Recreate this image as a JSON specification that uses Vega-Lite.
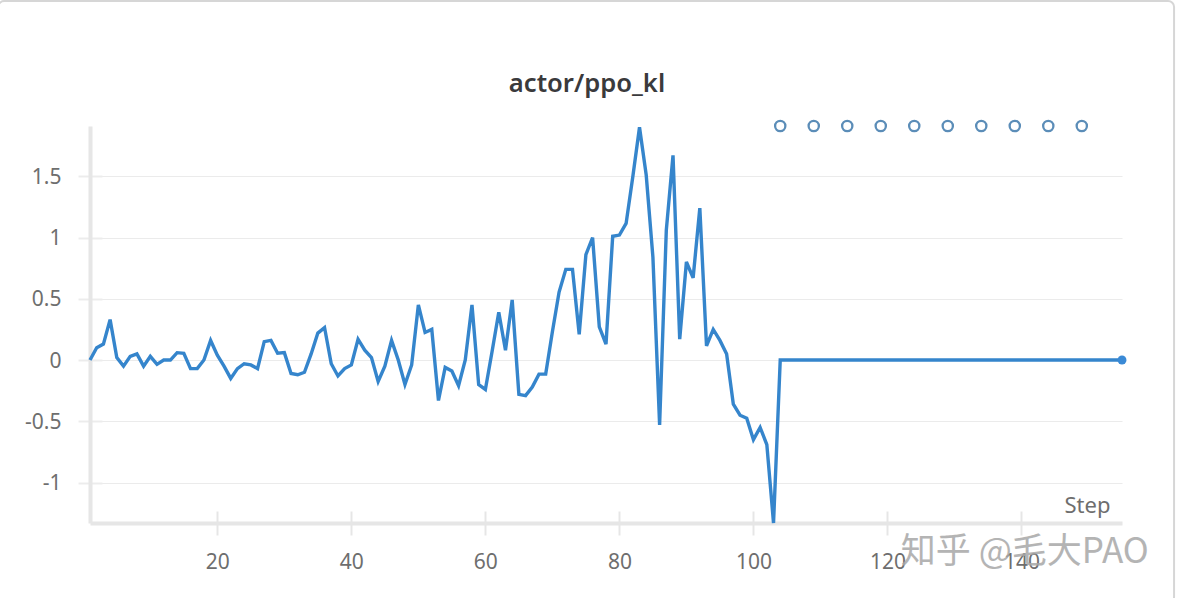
{
"$schema":"https://vega.github.io/schema/vega-lite/v6.json",
"width":1032,"height":397,"autosize":{"type":"none"},
"padding":{"left":90,"top":126,"right":58,"bottom":75},
"background":"white",
"view":{"stroke":null},
"title":{"text":"actor/ppo_kl","font":"Noto Sans","fontSize":25.6,"fontWeight":600,"color":"#3a3a3c","anchor":"middle","frame":"group","dx":-19,"offset":-98},
"config":{"font":"Noto Sans"},
"datasets":{
"kl":[
{"step":1,"value":0},{"step":2,"value":0.1},{"step":3,"value":0.13},{"step":4,"value":0.33},{"step":5,"value":0.02},{"step":6,"value":-0.05},{"step":7,"value":0.03},{"step":8,"value":0.05},{"step":9,"value":-0.05},{"step":10,"value":0.03},
{"step":11,"value":-0.035},{"step":12,"value":0},{"step":13,"value":0},{"step":14,"value":0.06},{"step":15,"value":0.055},{"step":16,"value":-0.07},{"step":17,"value":-0.07},{"step":18,"value":0},{"step":19,"value":0.16},{"step":20,"value":0.04},
{"step":21,"value":-0.05},{"step":22,"value":-0.15},{"step":23,"value":-0.07},{"step":24,"value":-0.03},{"step":25,"value":-0.04},{"step":26,"value":-0.07},{"step":27,"value":0.15},{"step":28,"value":0.16},{"step":29,"value":0.055},{"step":30,"value":0.06},
{"step":31,"value":-0.11},{"step":32,"value":-0.12},{"step":33,"value":-0.1},{"step":34,"value":0.05},{"step":35,"value":0.22},{"step":36,"value":0.265},{"step":37,"value":-0.03},{"step":38,"value":-0.13},{"step":39,"value":-0.07},{"step":40,"value":-0.04},
{"step":41,"value":0.17},{"step":42,"value":0.08},{"step":43,"value":0.02},{"step":44,"value":-0.175},{"step":45,"value":-0.05},{"step":46,"value":0.16},{"step":47,"value":0},{"step":48,"value":-0.2},{"step":49,"value":-0.04},{"step":50,"value":0.45},
{"step":51,"value":0.225},{"step":52,"value":0.25},{"step":53,"value":-0.33},{"step":54,"value":-0.06},{"step":55,"value":-0.09},{"step":56,"value":-0.21},{"step":57,"value":0},{"step":58,"value":0.45},{"step":59,"value":-0.2},{"step":60,"value":-0.24},
{"step":61,"value":0.07},{"step":62,"value":0.39},{"step":63,"value":0.08},{"step":64,"value":0.49},{"step":65,"value":-0.28},{"step":66,"value":-0.29},{"step":67,"value":-0.22},{"step":68,"value":-0.115},{"step":69,"value":-0.115},{"step":70,"value":0.23},
{"step":71,"value":0.555},{"step":72,"value":0.74},{"step":73,"value":0.74},{"step":74,"value":0.21},{"step":75,"value":0.86},{"step":76,"value":1},{"step":77,"value":0.27},{"step":78,"value":0.13},{"step":79,"value":1.01},{"step":80,"value":1.02},
{"step":81,"value":1.115},{"step":82,"value":1.495},{"step":83,"value":1.9},{"step":84,"value":1.51},{"step":85,"value":0.84},{"step":86,"value":-0.53},{"step":87,"value":1.06},{"step":88,"value":1.67},{"step":89,"value":0.17},{"step":90,"value":0.8},
{"step":91,"value":0.67},{"step":92,"value":1.24},{"step":93,"value":0.115},{"step":94,"value":0.25},{"step":95,"value":0.16},{"step":96,"value":0.05},{"step":97,"value":-0.36},{"step":98,"value":-0.45},{"step":99,"value":-0.475},{"step":100,"value":-0.65},
{"step":101,"value":-0.55},{"step":102,"value":-0.69},{"step":103,"value":-1.33},{"step":104,"value":0},{"step":105,"value":0},{"step":106,"value":0},{"step":107,"value":0},{"step":108,"value":0},{"step":109,"value":0},{"step":110,"value":0},
{"step":111,"value":0},{"step":112,"value":0},{"step":113,"value":0},{"step":114,"value":0},{"step":115,"value":0},{"step":116,"value":0},{"step":117,"value":0},{"step":118,"value":0},{"step":119,"value":0},{"step":120,"value":0},
{"step":121,"value":0},{"step":122,"value":0},{"step":123,"value":0},{"step":124,"value":0},{"step":125,"value":0},{"step":126,"value":0},{"step":127,"value":0},{"step":128,"value":0},{"step":129,"value":0},{"step":130,"value":0},
{"step":131,"value":0},{"step":132,"value":0},{"step":133,"value":0},{"step":134,"value":0},{"step":135,"value":0},{"step":136,"value":0},{"step":137,"value":0},{"step":138,"value":0},{"step":139,"value":0},{"step":140,"value":0},
{"step":141,"value":0},{"step":142,"value":0},{"step":143,"value":0},{"step":144,"value":0},{"step":145,"value":0},{"step":146,"value":0},{"step":147,"value":0},{"step":148,"value":0},{"step":149,"value":0},{"step":150,"value":0},
{"step":151,"value":0},{"step":152,"value":0},{"step":153,"value":0},{"step":154,"value":0},{"step":155,"value":0}
],
"outliers":[{"step":104,"value":1.91},{"step":109,"value":1.91},{"step":114,"value":1.91},{"step":119,"value":1.91},{"step":124,"value":1.91},{"step":129,"value":1.91},{"step":134,"value":1.91},{"step":139,"value":1.91},{"step":144,"value":1.91},{"step":149,"value":1.91}],
"last":[{"step":155,"value":0}],
"card":[{"x1":-12.7,"x2":162.77,"y1":2.93,"y2":-1.98}],
"mark":[{"step":140.5,"value":-1.57,"label":"知乎 @毛大PAO"}]
},
"resolve":{"axis":{"x":"independent","y":"independent"}},
"layer":[
{"data":{"name":"card"},
 "mark":{"type":"rect","fill":null,"filled":false,"stroke":"#d6d6d6","strokeWidth":2,"cornerRadius":6,"clip":false},
 "encoding":{
  "x":{"field":"x1","type":"quantitative","axis":null,"scale":{"domain":[1,155],"nice":false,"zero":false}},
  "x2":{"field":"x2"},
  "y":{"field":"y1","type":"quantitative","axis":null,"scale":{"domain":[-1.33,1.91],"nice":false,"zero":false}},
  "y2":{"field":"y2"}}},
{"data":{"name":"outliers"},
 "mark":{"type":"point","filled":false,"shape":"circle","size":105,"stroke":"#5b8db8","strokeWidth":2.3,"opacity":1},
 "encoding":{
  "x":{"field":"step","type":"quantitative","title":null,"axis":{"orient":"bottom","values":[20,40,60,80,100,120,140],"domain":false,"labels":false,"grid":false,"ticks":true,"tickSize":24,"tickWidth":2,"tickColor":"#e6e6e6","offset":-12,"title":null}},
  "y":{"field":"value","type":"quantitative","title":null,"axis":{"orient":"left","values":[-1,-0.5,0,0.5,1,1.5],"domain":false,"labels":false,"grid":false,"ticks":true,"tickSize":24,"tickWidth":2,"tickColor":"#ececec","offset":-12,"title":null}}}},
{"data":{"name":"kl"},
 "mark":{"type":"line","color":"#3585cc","strokeWidth":3.4,"interpolate":"linear"},
 "encoding":{
  "x":{"field":"step","type":"quantitative","axis":{"orient":"bottom","title":"Step","values":[20,40,60,80,100,120,140],"domainColor":"#e6e6e6","domainWidth":4,"ticks":false,"grid":false,"labelFontSize":21,"labelColor":"#6e6e6e","labelPadding":28,"labelFont":"Noto Sans","titleFont":"Noto Sans","titleFontSize":22,"titleFontWeight":"normal","titleColor":"#6e6e6e","titleX":1020,"titleY":-11,"titleAlign":"right","titleBaseline":"alphabetic","labelFlush":false}},
  "y":{"field":"value","type":"quantitative","axis":{"orient":"left","title":null,"values":[-1,-0.5,0,0.5,1,1.5],"labelExpr":"'' + datum.value","labelOffset":1,"domainColor":"#e6e6e6","domainWidth":4,"ticks":false,"grid":true,"gridColor":"#ebebeb","gridWidth":1,"labelFontSize":21,"labelColor":"#6e6e6e","labelPadding":29,"labelFont":"Noto Sans"}}}},
{"data":{"name":"last"},
 "mark":{"type":"point","filled":true,"shape":"circle","size":80,"color":"#3a8ad6","opacity":1,"clip":false},
 "encoding":{
  "x":{"field":"step","type":"quantitative","axis":null},
  "y":{"field":"value","type":"quantitative","axis":null}}},
{"data":{"name":"mark"},
 "mark":{"type":"text","font":"Noto Sans CJK SC","fontSize":35,"color":"#a8a8a8","opacity":0.85,"align":"center","baseline":"middle","clip":false},
 "encoding":{
  "x":{"field":"step","type":"quantitative","axis":null},
  "y":{"field":"value","type":"quantitative","axis":null},
  "text":{"field":"label"}}}
]
}
